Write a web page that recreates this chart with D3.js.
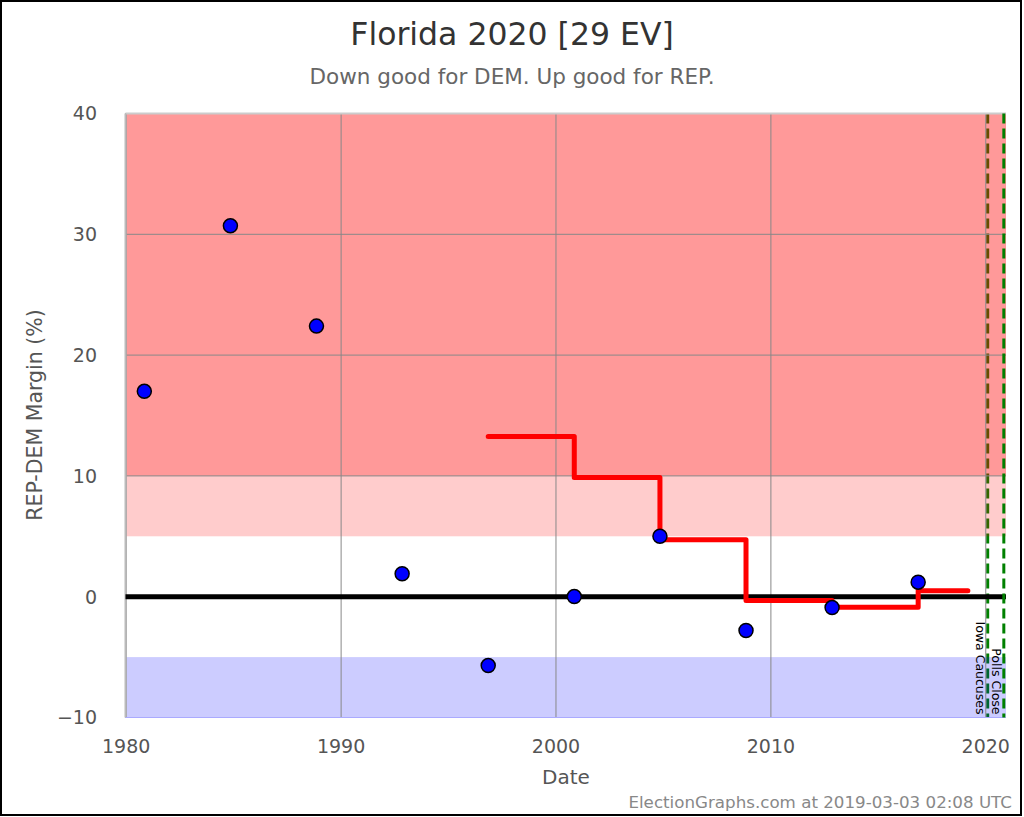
<!DOCTYPE html>
<html><head><meta charset="utf-8">
<script src="https://cdn.jsdelivr.net/npm/d3@7"></script>
<style>body{margin:0;background:#fff}svg{display:block}text{font-family:"DejaVu Sans",sans-serif}</style>
</head><body>
<svg id="c" width="1024" height="817"></svg>
<script>
// Data
const electionDates = ["1980-11-04","1984-11-06","1988-11-08","1992-11-03","1996-11-05","2000-11-07","2004-11-02","2008-11-04","2012-11-06","2016-11-08"];
const electionMargins = [17.0, 30.7, 22.4, 1.9, -5.7, 0.01, 5.0, -2.8, -0.9, 1.2];
const avgDates = ["1996-11-05","2000-11-07","2004-11-02","2008-11-04","2012-11-06","2016-11-08","2019-03-03"];
const avgMargins = [13.26, 9.86, 4.72, -0.32, -0.88, 0.50, 0.50];
const xTicks = [1980, 1990, 2000, 2010, 2020];
const yTicks = [-10, 0, 10, 20, 30, 40];
const bands = [
  {lo: 10, hi: 40, color: "rgba(255,0,0,0.4)"},
  {lo: 5, hi: 10, color: "rgba(255,0,0,0.2)"},
  {lo: -10, hi: -5, color: "rgba(0,0,255,0.2)"}
];
const events = [
  {date: "2020-02-03", label: "Iowa Caucuses", below: true},
  {date: "2020-11-03", label: "Polls Close", below: false}
];

const svg = d3.select("#c");
const parse = d3.timeParse("%Y-%m-%d");
const L = 125.5, R = 1006, T = 113.5, B = 717.5;
const x = d3.scaleTime().domain([parse("1979-12-20"), parse("2020-12-10")]).range([L, R]);
const y = d3.scaleLinear().domain([-10, 40]).range([B, T]);

// border
svg.append("rect").attr("x",1).attr("y",1).attr("width",1020).attr("height",814)
  .attr("fill","#fff").attr("stroke","#000").attr("stroke-width",2);

const evLine = (e) => svg.append("line")
  .attr("x1", x(parse(e.date))).attr("x2", x(parse(e.date)))
  .attr("y1", T).attr("y2", B)
  .attr("stroke", "#008000").attr("stroke-width", 3).attr("stroke-dasharray", "10,5");

// Iowa line beneath bands
events.filter(e=>e.below).forEach(evLine);

bands.forEach(b => svg.append("rect").attr("x", L).attr("width", R - L)
  .attr("y", y(b.hi)).attr("height", y(b.lo) - y(b.hi)).attr("fill", b.color));

// grid
svg.append("g").selectAll("line").data(xTicks).join("line")
  .attr("x1", d=>x(new Date(d,0,1))).attr("x2", d=>x(new Date(d,0,1)))
  .attr("y1", T).attr("y2", B).attr("stroke", "#888").attr("stroke-width", 1);
svg.append("g").selectAll("line").data(yTicks).join("line")
  .attr("x1", L).attr("x2", R).attr("y1", d=>y(d)).attr("y2", d=>y(d))
  .attr("stroke", "#888").attr("stroke-width", 1);
svg.append("line").attr("x1",L).attr("x2",R).attr("y1",T).attr("y2",T).attr("stroke","#ccc").attr("stroke-width",2);
svg.append("line").attr("x1",L).attr("x2",L).attr("y1",T).attr("y2",B).attr("stroke","#bbb").attr("stroke-width",2);
svg.append("line").attr("x1",L).attr("x2",R).attr("y1",B).attr("y2",B).attr("stroke","#aaaaff").attr("stroke-width",1);

// zero line
svg.append("line").attr("x1",L).attr("x2",R).attr("y1",y(0)).attr("y2",y(0))
  .attr("stroke","#000").attr("stroke-width",5);

events.filter(e=>!e.below).forEach(evLine);

// event labels
events.forEach(e => {
  const ex = x(parse(e.date));
  svg.append("text").attr("transform", `translate(${ex - 12},${B - 3}) rotate(90)`)
    .attr("text-anchor","end").attr("font-size", 12.5).attr("fill","#000").text(e.label);
});

// average line
const avg = avgDates.map((d,i)=>({d:parse(d), v:avgMargins[i]}));
svg.append("path").datum(avg)
  .attr("d", d3.line().x(p=>x(p.d)).y(p=>y(p.v)).curve(d3.curveStepAfter))
  .attr("fill","none").attr("stroke","#ff0000").attr("stroke-width",5)
  .attr("stroke-linejoin","round").attr("stroke-linecap","round");

// points
const pts = electionDates.map((d,i)=>({d:parse(d), v:electionMargins[i]}));
svg.append("g").selectAll("circle").data(pts).join("circle")
  .attr("cx", p=>x(p.d)).attr("cy", p=>y(p.v)).attr("r", 7)
  .attr("fill","#0000ff").attr("stroke","#000").attr("stroke-width",1.5);

// tick labels
svg.append("g").selectAll("text").data(yTicks).join("text")
  .attr("x", 97).attr("y", d=>y(d)).attr("dy","0.36em").attr("text-anchor","end")
  .attr("font-size",19).attr("fill","#555").text(d=>d<0?"\u2212"+Math.abs(d):d);
svg.append("g").selectAll("text").data(xTicks).join("text")
  .attr("x", d=>x(new Date(d,0,1))).attr("y", 753).attr("text-anchor","middle")
  .attr("font-size",19).attr("fill","#555").text(d=>d);

// titles
svg.append("text").attr("x",512).attr("y",45).attr("text-anchor","middle")
  .attr("font-size",31.5).attr("fill","#333").text("Florida 2020 [29 EV]");
svg.append("text").attr("x",512).attr("y",84).attr("text-anchor","middle")
  .attr("font-size",21.5).attr("fill","#666").text("Down good for DEM. Up good for REP.");
svg.append("text").attr("transform","translate(42,415) rotate(-90)").attr("text-anchor","middle")
  .attr("font-size",20.5).attr("fill","#555").text("REP-DEM Margin (%)");
svg.append("text").attr("x",566).attr("y",784).attr("text-anchor","middle")
  .attr("font-size",20).attr("fill","#555").text("Date");
svg.append("text").attr("x",1012).attr("y",808).attr("text-anchor","end")
  .attr("font-size",16.7).attr("fill","#888").text("ElectionGraphs.com at 2019-03-03 02:08 UTC");
</script>
</body></html>
